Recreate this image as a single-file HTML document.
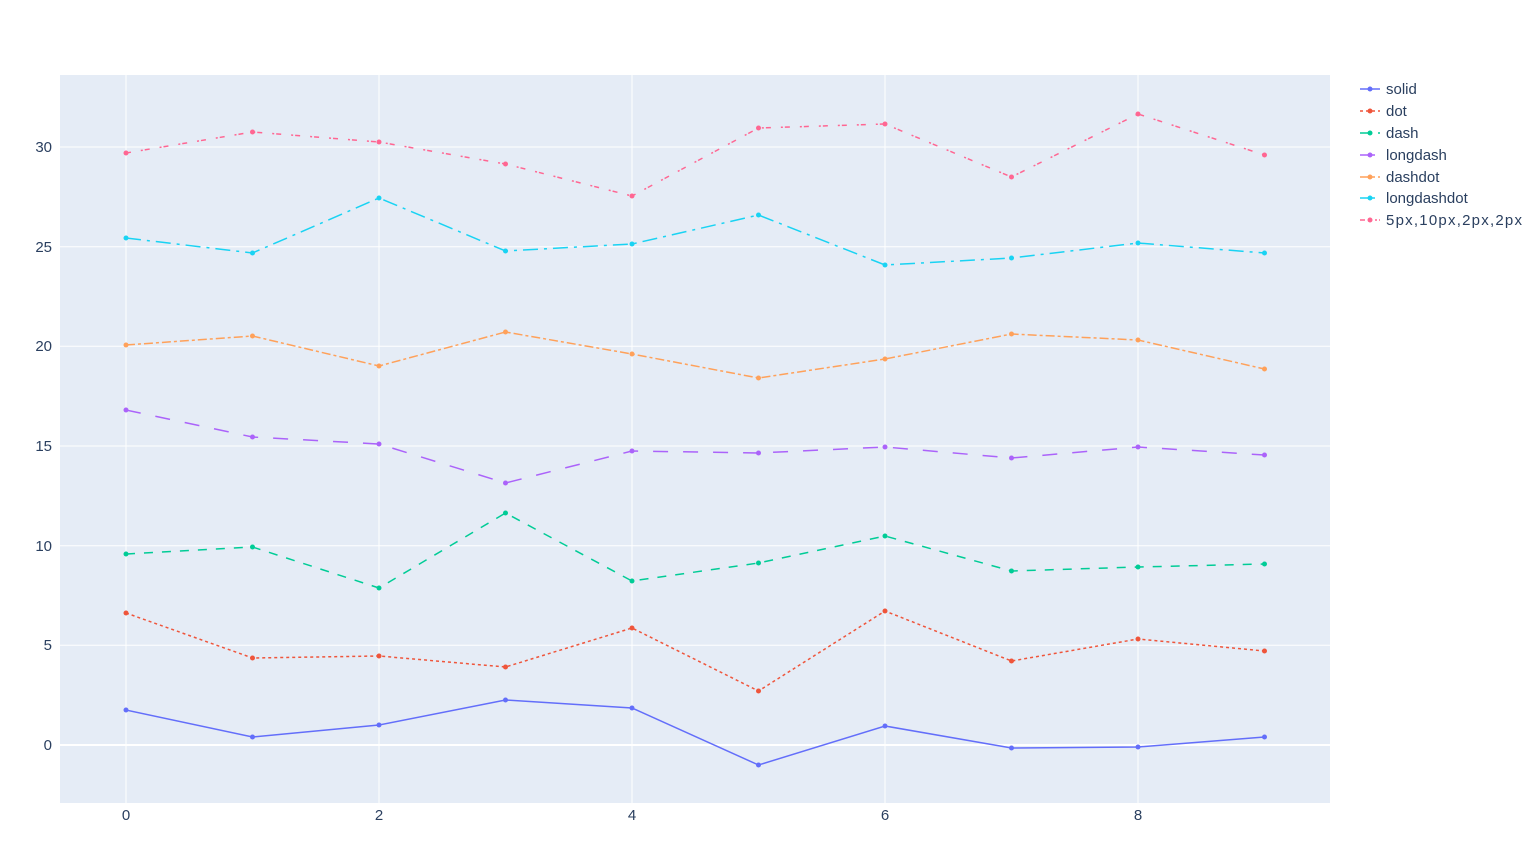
<!DOCTYPE html>
<html><head><meta charset="utf-8"><style>
html,body{margin:0;padding:0;background:#fff;}
svg{display:block;font-family:"Liberation Sans",sans-serif;}
</style></head><body>
<svg width="1536" height="864" viewBox="0 0 1536 864">
<rect x="60" y="75" width="1270" height="728" fill="#e5ecf6"/>
<g stroke="#fff" stroke-width="1">
<line x1="60" x2="1330" y1="645.3" y2="645.3"/>
<line x1="60" x2="1330" y1="545.7" y2="545.7"/>
<line x1="60" x2="1330" y1="446" y2="446"/>
<line x1="60" x2="1330" y1="346.3" y2="346.3"/>
<line x1="60" x2="1330" y1="246.7" y2="246.7"/>
<line x1="60" x2="1330" y1="147" y2="147"/>
<line y1="75" y2="803" x1="126" x2="126"/>
<line y1="75" y2="803" x1="379" x2="379"/>
<line y1="75" y2="803" x1="632" x2="632"/>
<line y1="75" y2="803" x1="885" x2="885"/>
<line y1="75" y2="803" x1="1138" x2="1138"/>
</g>
<line x1="60" x2="1330" y1="745" y2="745" stroke="#fff" stroke-width="2"/>
<g font-size="15" fill="#2a3f5f" text-anchor="end">
<text x="52" y="750">0</text><text x="52" y="650">5</text><text x="52" y="551">10</text>
<text x="52" y="451">15</text><text x="52" y="351">20</text><text x="52" y="252">25</text><text x="52" y="152">30</text>
</g>
<g font-size="15" fill="#2a3f5f" text-anchor="middle">
<text x="126" y="820">0</text><text x="379" y="820">2</text><text x="632" y="820">4</text><text x="885" y="820">6</text><text x="1138" y="820">8</text>
</g>
<g fill="none" stroke-width="1.5">
<polyline stroke="#636efa" points="126,710 252.5,737 379,725 505.5,700 632,708 758.5,765 885,726 1011.5,748 1138,747 1264.5,737"/>
<polyline stroke="#EF553B" stroke-dasharray="3,3" points="126,613 252.5,658 379,656 505.5,667 632,628 758.5,691 885,611 1011.5,661 1138,639 1264.5,651"/>
<polyline stroke="#00cc96" stroke-dasharray="9,9" points="126,554 252.5,547 379,588 505.5,513 632,581 758.5,563 885,536 1011.5,571 1138,567 1264.5,564"/>
<polyline stroke="#ab63fa" stroke-dasharray="15,15" points="126,410 252.5,437 379,444 505.5,483 632,451 758.5,453 885,447 1011.5,458 1138,447 1264.5,455"/>
<polyline stroke="#FFA15A" stroke-dasharray="9,3,3,3" points="126,345 252.5,336 379,366 505.5,332 632,354 758.5,378 885,359 1011.5,334 1138,340 1264.5,369"/>
<polyline stroke="#19d3f3" stroke-dasharray="15,6,3,6" points="126,238 252.5,253 379,198 505.5,251 632,244 758.5,215 885,265 1011.5,258 1138,243 1264.5,253"/>
<polyline stroke="#FF6692" stroke-dasharray="5,10,2,2" points="126,153 252.5,132 379,142 505.5,164 632,196 758.5,128 885,124 1011.5,177 1138,114 1264.5,155"/>
</g>
<g fill="#636efa"><circle cx="126" cy="710" r="2.5"/><circle cx="252.5" cy="737" r="2.5"/><circle cx="379" cy="725" r="2.5"/><circle cx="505.5" cy="700" r="2.5"/><circle cx="632" cy="708" r="2.5"/><circle cx="758.5" cy="765" r="2.5"/><circle cx="885" cy="726" r="2.5"/><circle cx="1011.5" cy="748" r="2.5"/><circle cx="1138" cy="747" r="2.5"/><circle cx="1264.5" cy="737" r="2.5"/></g>
<g fill="#EF553B"><circle cx="126" cy="613" r="2.5"/><circle cx="252.5" cy="658" r="2.5"/><circle cx="379" cy="656" r="2.5"/><circle cx="505.5" cy="667" r="2.5"/><circle cx="632" cy="628" r="2.5"/><circle cx="758.5" cy="691" r="2.5"/><circle cx="885" cy="611" r="2.5"/><circle cx="1011.5" cy="661" r="2.5"/><circle cx="1138" cy="639" r="2.5"/><circle cx="1264.5" cy="651" r="2.5"/></g>
<g fill="#00cc96"><circle cx="126" cy="554" r="2.5"/><circle cx="252.5" cy="547" r="2.5"/><circle cx="379" cy="588" r="2.5"/><circle cx="505.5" cy="513" r="2.5"/><circle cx="632" cy="581" r="2.5"/><circle cx="758.5" cy="563" r="2.5"/><circle cx="885" cy="536" r="2.5"/><circle cx="1011.5" cy="571" r="2.5"/><circle cx="1138" cy="567" r="2.5"/><circle cx="1264.5" cy="564" r="2.5"/></g>
<g fill="#ab63fa"><circle cx="126" cy="410" r="2.5"/><circle cx="252.5" cy="437" r="2.5"/><circle cx="379" cy="444" r="2.5"/><circle cx="505.5" cy="483" r="2.5"/><circle cx="632" cy="451" r="2.5"/><circle cx="758.5" cy="453" r="2.5"/><circle cx="885" cy="447" r="2.5"/><circle cx="1011.5" cy="458" r="2.5"/><circle cx="1138" cy="447" r="2.5"/><circle cx="1264.5" cy="455" r="2.5"/></g>
<g fill="#FFA15A"><circle cx="126" cy="345" r="2.5"/><circle cx="252.5" cy="336" r="2.5"/><circle cx="379" cy="366" r="2.5"/><circle cx="505.5" cy="332" r="2.5"/><circle cx="632" cy="354" r="2.5"/><circle cx="758.5" cy="378" r="2.5"/><circle cx="885" cy="359" r="2.5"/><circle cx="1011.5" cy="334" r="2.5"/><circle cx="1138" cy="340" r="2.5"/><circle cx="1264.5" cy="369" r="2.5"/></g>
<g fill="#19d3f3"><circle cx="126" cy="238" r="2.5"/><circle cx="252.5" cy="253" r="2.5"/><circle cx="379" cy="198" r="2.5"/><circle cx="505.5" cy="251" r="2.5"/><circle cx="632" cy="244" r="2.5"/><circle cx="758.5" cy="215" r="2.5"/><circle cx="885" cy="265" r="2.5"/><circle cx="1011.5" cy="258" r="2.5"/><circle cx="1138" cy="243" r="2.5"/><circle cx="1264.5" cy="253" r="2.5"/></g>
<g fill="#FF6692"><circle cx="126" cy="153" r="2.5"/><circle cx="252.5" cy="132" r="2.5"/><circle cx="379" cy="142" r="2.5"/><circle cx="505.5" cy="164" r="2.5"/><circle cx="632" cy="196" r="2.5"/><circle cx="758.5" cy="128" r="2.5"/><circle cx="885" cy="124" r="2.5"/><circle cx="1011.5" cy="177" r="2.5"/><circle cx="1138" cy="114" r="2.5"/><circle cx="1264.5" cy="155" r="2.5"/></g>
<g font-size="15" fill="#2a3f5f">
<g stroke-width="1.5" fill="none">
<line x1="1360" x2="1380" y1="89" y2="89" stroke="#636efa"/>
<line x1="1360" x2="1380" y1="111" y2="111" stroke="#EF553B" stroke-dasharray="3,3"/>
<line x1="1360" x2="1380" y1="133" y2="133" stroke="#00cc96" stroke-dasharray="9,9"/>
<line x1="1360" x2="1380" y1="155" y2="155" stroke="#ab63fa" stroke-dasharray="15,15"/>
<line x1="1360" x2="1380" y1="177" y2="177" stroke="#FFA15A" stroke-dasharray="9,3,3,3"/>
<line x1="1360" x2="1380" y1="198" y2="198" stroke="#19d3f3" stroke-dasharray="15,6,3,6"/>
<line x1="1360" x2="1380" y1="220" y2="220" stroke="#FF6692" stroke-dasharray="5,10,2,2"/>
</g>
<circle cx="1370" cy="89" r="2.5" fill="#636efa"/><circle cx="1370" cy="111" r="2.5" fill="#EF553B"/>
<circle cx="1370" cy="133" r="2.5" fill="#00cc96"/><circle cx="1370" cy="155" r="2.5" fill="#ab63fa"/>
<circle cx="1370" cy="177" r="2.5" fill="#FFA15A"/><circle cx="1370" cy="198" r="2.5" fill="#19d3f3"/>
<circle cx="1370" cy="220" r="2.5" fill="#FF6692"/>
<text x="1386" y="94">solid</text><text x="1386" y="116">dot</text><text x="1386" y="138">dash</text>
<text x="1386" y="160">longdash</text><text x="1386" y="182">dashdot</text><text x="1386" y="203">longdashdot</text>
<text x="1386" y="225" textLength="136">5px,10px,2px,2px</text>
</g>
</svg>
</body></html>
